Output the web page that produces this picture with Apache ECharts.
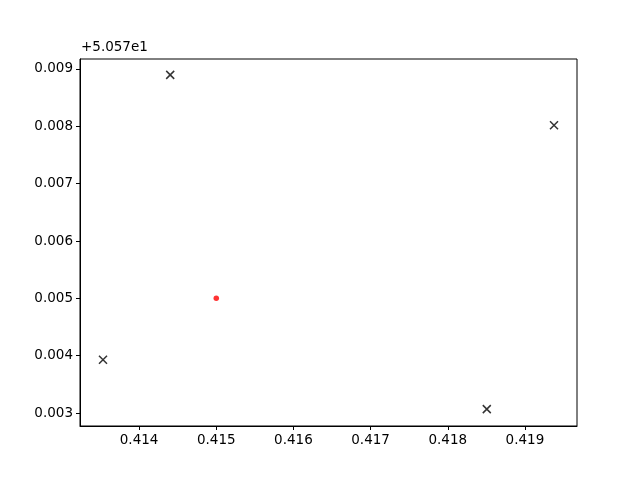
<!DOCTYPE html>
<html>
<head>
<meta charset="utf-8">
<script src="https://cdn.jsdelivr.net/npm/echarts@6/dist/echarts.min.js"></script>
<style>html,body{margin:0;padding:0;background:#fff;}#c{width:640px;height:480px;}</style>
</head>
<body>
<div id="c"></div>
<script>
// y values are offsets from 50.57, as shown on the axis
const Y_OFFSET_LABEL = '+5.057e1';
const crossX = [0.413532, 0.414403, 0.419377, 0.418506];
const crossY = [0.00393, 0.008896, 0.008017, 0.003069];
const centerX = [0.415];
const centerY = [0.005];
const xRange = [0.413234, 0.419675];
const yRange = [0.002775, 0.009173];

const crossData = crossX.map((x, i) => [x, crossY[i]]);
const centerData = centerX.map((x, i) => [x, centerY[i]]);

const font = 'DejaVu Sans';
const chart = echarts.init(document.getElementById('c'), null, {renderer: 'canvas'});
chart.setOption({
  animation: false,
  backgroundColor: '#fff',
  grid: {left: 80, right: 63, top: 59, bottom: 54, show: true, borderColor: '#000', borderWidth: 1, containLabel: false},
  xAxis: {
    type: 'value', min: xRange[0], max: xRange[1], scale: true,
    splitLine: {show: false},
    axisLine: {show: true, lineStyle: {color: '#000', width: 1}},
    axisTick: {show: true, inside: false, length: 4, lineStyle: {color: '#000'}},
    axisLabel: {color: '#000', fontFamily: font, fontSize: 13.5, margin: 7, showMinLabel: false, showMaxLabel: false,
      formatter: v => v.toFixed(3)}
  },
  yAxis: {
    type: 'value', min: yRange[0], max: yRange[1], scale: true,
    splitLine: {show: false},
    axisLine: {show: true, lineStyle: {color: '#000', width: 1}},
    axisTick: {show: true, inside: false, length: 4, lineStyle: {color: '#000'}},
    axisLabel: {color: '#000', fontFamily: font, fontSize: 13.5, margin: 7, showMinLabel: false, showMaxLabel: false,
      formatter: v => v.toFixed(3)}
  },
  graphic: [{
    type: 'text', left: 81, top: 40,
    style: {text: Y_OFFSET_LABEL, fill: '#000', font: '13.5px "DejaVu Sans"'}
  }],
  series: [
    {
      type: 'scatter', data: crossData,
      symbol: 'path://M0,0L10,10M10,0L0,10', symbolSize: 8,
      itemStyle: {color: 'none', borderColor: '#000', borderWidth: 1.5}
    },
    {
      type: 'scatter', data: centerData,
      symbol: 'circle', symbolSize: 5.5,
      itemStyle: {color: '#ff0000'}
    }
  ]
});
</script>
</body>
</html>
